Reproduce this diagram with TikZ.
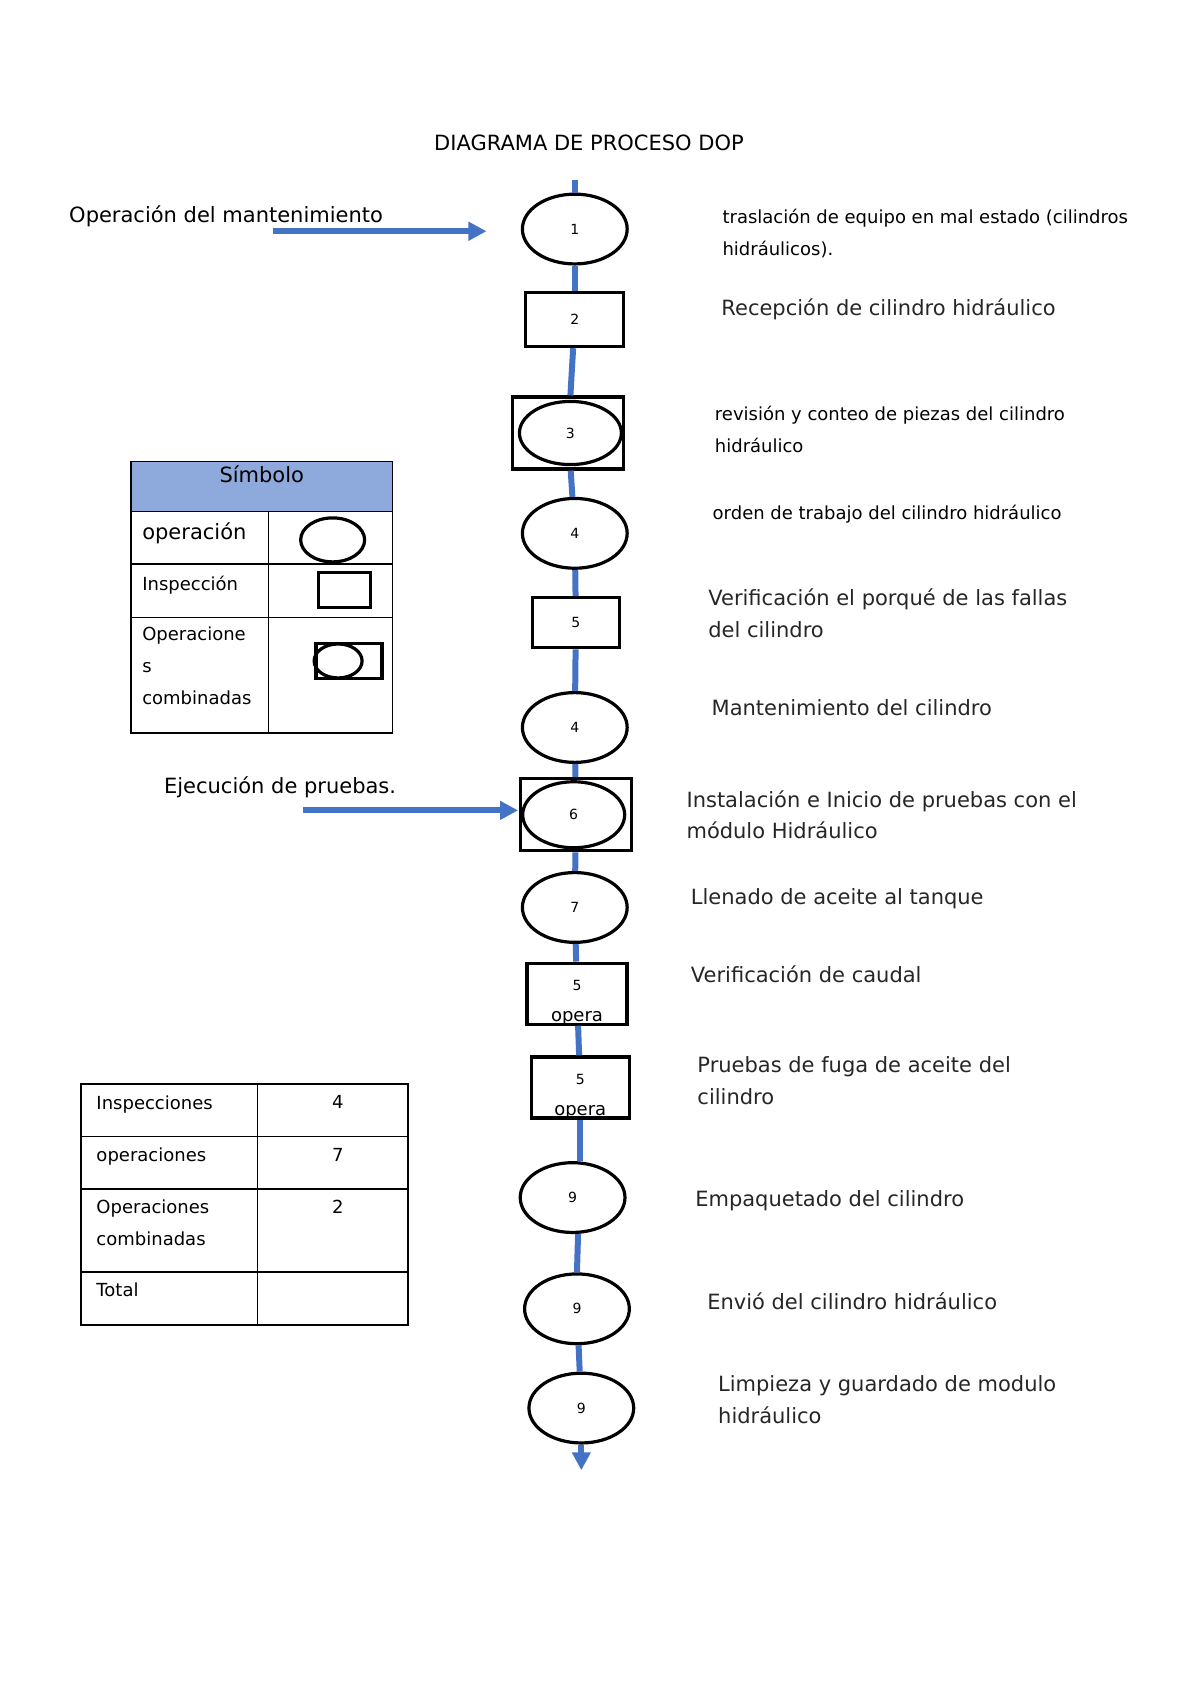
\documentclass[tikz,border=0pt]{standalone}
\usepackage{fontspec}
\setmainfont{DejaVu Sans}
\usetikzlibrary{arrows.meta,shapes.geometric}
\definecolor{lb}{HTML}{4472C4}
\definecolor{hd}{HTML}{8EA9DB}
\begin{document}
\begin{tikzpicture}[x=0.5455pt,y=-0.5455pt,
 flow/.style={draw=lb,line width=3pt},
 opn/.style={draw,ellipse,line width=1.6pt,minimum width=52.4pt,minimum height=34.9pt,inner sep=0pt,font=\fontsize{7}{8}\selectfont,fill=white},
 ins/.style={draw,rectangle,line width=1.6pt,inner sep=0pt,font=\fontsize{7}{8}\selectfont,fill=white},
 desc/.style={anchor=west,align=left,font=\fontsize{10.5}{16}\selectfont,text=black!85},
 sdesc/.style={anchor=west,align=left,font=\fontsize{9}{16}\selectfont},
 cell/.style={anchor=north west,font=\fontsize{9}{16}\selectfont,align=left}]
\useasboundingbox (0,0) rectangle (1100,1555);
\node[font=\fontsize{10.5}{12}\selectfont] (title) at (540,131) {DIAGRAMA DE PROCESO DOP};
\coordinate (top) at (527,165);
\coordinate (bot) at (533,1348);
% nodes
\node[opn] (n1) at (527,210) {1};
\node[ins,minimum width=49pt,minimum height=27pt] (n2) at (527,293) {2};
\node[ins,minimum width=55.6pt,minimum height=36pt] (n3b) at (521,397) {};
\node[opn,minimum width=51pt,minimum height=31.6pt] (n3) at (523,397) {3};
\node[opn] (n4) at (527,489) {4};
\node[ins,minimum width=43.6pt,minimum height=25pt] (n5) at (528,571) {5};
\node[opn] (n4b) at (527,667) {4};
\node[ins,minimum width=55.6pt,minimum height=36pt] (n6b) at (528,747) {};
\node[opn,minimum width=51pt,minimum height=33pt] (n6) at (526,747) {6};
\node[opn] (n7) at (527,832) {7};
\node[ins,minimum width=50pt,minimum height=30.5pt] (n8) at (529,911) {};
\node[ins,minimum width=49pt,minimum height=30.5pt] (n9) at (532,997) {};
\node[opn] (n10) at (525,1098) {9};
\node[opn] (n11) at (529,1200) {9};
\node[opn] (n12) at (533,1291) {9};
% clipped texts in boxes
\begin{scope}
\clip (n8.south west) rectangle (n8.north east);
\node[font=\fontsize{7}{8}\selectfont] at (529,904) {5};
\node[font=\fontsize{9}{10}\selectfont] at (529,934) {opera};
\end{scope}
\begin{scope}
\clip (n9.south west) rectangle (n9.north east);
\node[font=\fontsize{7}{8}\selectfont] at (532,990) {5};
\node[font=\fontsize{9}{10}\selectfont] at (532,1020) {opera};
\end{scope}
% flow connectors
\draw[flow] (top) -- (n1);
\draw[flow] (n1) -- (n2);
\draw[flow] (n2) -- (n3b);
\draw[flow] (n3b) -- (n4);
\draw[flow] (n4) -- (n5);
\draw[flow] (n5) -- (n4b);
\draw[flow] (n4b) -- (n6b);
\draw[flow] (n6b) -- (n7);
\draw[flow] (n7) -- (n8);
\draw[flow] (n8) -- (n9);
\draw[flow] (n9.south) -- (n10.north-|n9.south);
\draw[flow] (n10.south) ++(5,0) -- (n11.north);
\draw[flow] (n11) -- (n12);
\draw[flow,-{Triangle[length=9pt,width=9pt]}] (n12) -- (bot);
% side arrows
\node[anchor=west,font=\fontsize{10.5}{12}\selectfont] (l1) at (57,198) {Operación del mantenimiento};
\coordinate (a1s) at (250,212); \coordinate (a1e) at (446,212);
\draw[flow,-{Triangle[length=9pt,width=9pt]}] (a1s) -- (a1e);
\node[anchor=west,font=\fontsize{10.5}{12}\selectfont] (l2) at (144,722) {Ejecución de pruebas.};
\coordinate (a2s) at (278,743); \coordinate (a2e) at (475,743);
\draw[flow,-{Triangle[length=9pt,width=9pt]}] (a2s) -- (a2e);
% descriptions
\node[sdesc] (d1) at (656,214) {traslación de equipo en mal estado (cilindros\\hidráulicos).};
\node[desc] (d2) at (655,284) {Recepción de cilindro hidráulico};
\node[sdesc] (d3) at (649,394) {revisión y conteo de piezas del cilindro\\hidráulico};
\node[sdesc] (d4) at (647,471) {orden de trabajo del cilindro hidráulico};
\node[desc] (d5) at (643,562) {Verificación el porqué de las fallas\\del cilindro};
\node[desc] (d6) at (646,649) {Mantenimiento del cilindro};
\node[desc] (d7) at (623,747) {Instalación e Inicio de pruebas con el\\módulo Hidráulico};
\node[desc] (d8) at (627,824) {Llenado de aceite al tanque};
\node[desc] (d9) at (627,893) {Verificación de caudal};
\node[desc] (d10) at (633,991) {Pruebas de fuga de aceite del\\cilindro};
\node[desc] (d11) at (631,1101) {Empaquetado del cilindro};
\node[desc] (d12) at (642,1193) {Envió del cilindro hidráulico};
\node[desc] (d13) at (652,1283) {Limpieza y guardado de modulo\\hidráulico};
% symbol table
\fill[hd] (120,423) rectangle (360,469);
\draw[line width=0.8pt] (120,423) rectangle (360,672);
\draw[line width=0.8pt] (120,469) -- (360,469) (120,517) -- (360,517) (120,566) -- (360,566) (246,469) -- (246,672);
\node[font=\fontsize{10.5}{12}\selectfont] (sh) at (240,435) {Símbolo};
\node[cell,font=\fontsize{10.5}{12}\selectfont] (s1) at (124,473) {operación};
\node[cell] (s2) at (124,522) {Inspección};
\node[cell] (s3) at (124,568) {Operacione\\s\\combinadas};
\node[draw,ellipse,line width=1.6pt,minimum width=32pt,minimum height=22pt] (e1) at (305,495) {};
\node[draw,line width=1.6pt,minimum width=26pt,minimum height=17.5pt] (r1) at (316,541) {};
\node[draw,line width=1.6pt,minimum width=33pt,minimum height=17.5pt] (c1) at (320,606) {};
\node[draw,ellipse,line width=1.6pt,minimum width=24pt,minimum height=17pt,inner sep=0pt] (c2) at (310,606) {};
% summary table
\draw[line width=0.8pt] (74,994) rectangle (374,1215);
\draw[line width=0.8pt] (74,1042) -- (374,1042) (74,1090) -- (374,1090) (74,1166) -- (374,1166) (236,994) -- (236,1215);
\node[cell] (t1) at (82,998) {Inspecciones};
\node[cell] (t2) at (82,1046) {operaciones};
\node[cell] (t3) at (82,1094) {Operaciones\\combinadas};
\node[cell] (t4) at (82,1170) {Total};
\node[cell] (v1) at (298,998) {4};
\node[cell] (v2) at (298,1046) {7};
\node[cell] (v3) at (298,1094) {2};
\end{tikzpicture}
\end{document}
